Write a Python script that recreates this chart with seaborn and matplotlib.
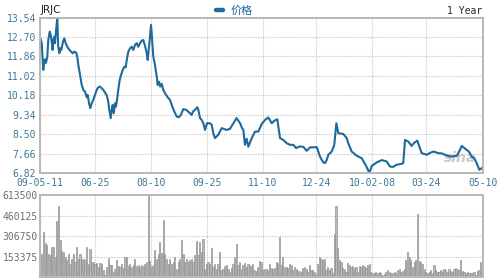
import numpy as np
import pandas as pd
import matplotlib
matplotlib.use("Agg")
import matplotlib.pyplot as plt
import seaborn as sns

# ---------------- data ----------------
start_date = "2009-05-11"
tick_dates = ["2009-05-11", "2009-06-25", "2009-08-10", "2009-09-25", "2009-11-10",
              "2009-12-24", "2010-02-08", "2010-03-24", "2010-05-10"]
tick_labels = ["09-05-11", "06-25", "08-10", "09-25", "11-10",
               "12-24", "10-02-08", "03-24", "05-10"]

price_ticks = [6.82, 7.66, 8.50, 9.34, 10.18, 11.02, 11.86, 12.70, 13.54]
volume_ticks = [153375, 306750, 460125, 613500]

# days since 2009-05-11 for each price observation
price_days = [0, 1.4, 2.7, 3.5, 4.1, 4.9, 6.0, 6.8, 8.0, 8.8,
              9.6, 10.4, 10.9, 11.7, 12.3, 13.1, 14.2, 14.5, 15.0, 15.9,
              16.7, 17.5, 18.9, 20.0, 21.1, 22.4, 23.8, 25.5, 26.9, 28.2,
              29.8, 30.6, 31.5, 32.9, 34.3, 35.6, 37.0, 38.4, 39.2, 40.3,
              41.3, 42.5, 43.8, 45.2, 46.6, 47.9, 49.3, 50.7, 52.0, 53.4,
              54.8, 56.1, 56.9, 58.1, 58.9, 59.7, 60.6, 61.6, 62.4, 63.3,
              64.3, 65.5, 66.6, 68.0, 69.3, 70.4, 71.5, 72.6, 74.0, 75.3,
              76.7, 78.1, 79.5, 80.8, 82.2, 83.6, 84.9, 86.3, 87.7, 88.5,
              89.6, 90.4, 91.2, 91.8, 92.3, 93.1, 94.5, 95.9, 96.7, 97.8,
              98.8, 100.0, 101.3, 102.7, 104.9, 106.8, 108.7, 110.4, 112.3, 114.2,
              115.8, 117.7, 120.0, 121.9, 124.6, 125.7, 127.4, 129.3, 130.1, 131.5,
              132.9, 134.2, 135.6, 137.2, 139.7, 141.1, 142.4, 143.8, 146.5, 149.3,
              153.4, 156.1, 158.6, 161.5, 164.4, 166.0, 167.1, 168.4, 169.8, 171.2,
              174.0, 176.7, 179.4, 182.2, 184.9, 187.6, 190.4, 192.3, 195.0, 197.2,
              199.9, 202.7, 205.4, 208.1, 210.4, 213.6, 216.4, 219.1, 221.9, 224.3,
              227.4, 230.1, 231.5, 232.8, 234.2, 235.6, 236.9, 239.7, 241.8, 243.5,
              245.1, 246.5, 249.2, 252.0, 253.3, 256.1, 260.2, 264.3, 267.0, 268.7,
              270.6, 272.6, 276.7, 280.8, 284.9, 287.6, 290.3, 293.1, 297.2, 298.5,
              299.9, 302.6, 305.4, 307.3, 310.0, 313.6, 317.8, 320.5, 323.2, 327.3,
              330.1, 332.8, 336.9, 342.4, 344.3, 346.5, 348.4, 350.6, 352.5, 354.7,
              356.6, 358.8, 361.0, 363.0, 364.0]

price = [12.71, 12.43, 11.28, 11.64, 11.74, 11.58, 11.85, 12.57, 12.93, 12.79,
         12.50, 12.14, 12.57, 12.71, 12.43, 12.93, 13.51, 13.00, 12.28, 12.00,
         12.21, 12.14, 12.50, 12.64, 12.43, 12.28, 12.17, 12.07, 12.00, 12.07,
         12.02, 11.85, 11.49, 11.06, 10.63, 10.42, 10.34, 10.10, 10.20, 9.84,
         9.63, 9.84, 9.99, 10.20, 10.42, 10.53, 10.56, 10.49, 10.42, 10.30,
         10.20, 9.91, 9.56, 9.20, 9.56, 9.77, 9.41, 9.84, 9.70, 9.99,
         10.42, 10.85, 11.06, 11.28, 11.42, 11.39, 11.78, 12.07, 12.21, 12.28,
         12.14, 12.36, 12.43, 12.28, 12.43, 12.54, 12.57, 12.31, 12.00, 11.71,
         12.28, 12.71, 13.22, 12.86, 12.43, 11.85, 11.49, 10.99, 10.63, 10.77,
         10.56, 10.68, 10.42, 10.27, 10.10, 9.99, 9.70, 9.48, 9.27, 9.24,
         9.34, 9.59, 9.56, 9.48, 9.34, 9.48, 9.56, 9.67, 9.56, 9.20,
         9.12, 8.98, 8.69, 8.98, 8.98, 8.91, 8.55, 8.34, 8.48, 8.77,
         8.69, 8.74, 8.95, 9.20, 8.98, 8.77, 8.69, 8.05, 8.31, 7.97,
         8.34, 8.62, 8.62, 8.95, 9.12, 9.23, 8.98, 9.08, 9.15, 8.34,
         8.26, 8.12, 8.05, 8.05, 7.91, 7.98, 7.96, 7.79, 7.94, 7.94,
         7.95, 7.54, 7.40, 7.29, 7.26, 7.40, 7.62, 7.76, 8.05, 8.98,
         8.55, 8.54, 8.52, 8.34, 8.12, 7.76, 7.58, 7.47, 7.23, 7.06,
         6.84, 7.14, 7.29, 7.39, 7.33, 7.11, 7.10, 7.19, 7.23, 7.27,
         8.26, 8.19, 8.00, 8.13, 8.23, 7.69, 7.62, 7.70, 7.76, 7.69,
         7.68, 7.62, 7.54, 7.57, 7.75, 8.00, 7.92, 7.83, 7.75, 7.54,
         7.49, 7.26, 6.97, 7.04, 7.10]

# daily volume, in trading-day order
volume = [178600, 339800, 260400, 245500, 178600, 171100, 228200, 228200, 153800, 419100,
          533200, 277800, 195900, 191000, 153800, 129000, 176100, 104200, 141400, 178600,
          116600, 228200, 141400, 178600, 141400, 141400, 129000, 228200, 104200, 210800,
          116600, 116600, 104200, 111600, 79400, 111600, 104200, 54600, 17400, 79400,
          146300, 91800, 96700, 42200, 67000, 129000, 86800, 79400, 104200, 71900,
          153800, 153800, 86800, 104200, 79400, 91800, 141400, 86800, 96700, 79400,
          96700, 86800, 104200, 116600, 650000, 121500, 86800, 96700, 203400, 141400,
          178600, 265400, 186000, 426600, 178600, 141400, 104200, 141400, 104200, 116600,
          153800, 67000, 116600, 141400, 277800, 178600, 116600, 141400, 116600, 129000,
          141400, 116600, 166200, 270300, 166200, 265400, 191000, 285200, 67000, 104200,
          116600, 104200, 220700, 79400, 104200, 67000, 104200, 191000, 54600, 67000,
          86800, 91800, 67000, 42200, 71900, 104200, 153800, 253000, 91800, 116600,
          67000, 91800, 111600, 79400, 104200, 96700, 86800, 104200, 54600, 47100,
          79400, 121500, 116600, 54600, 62000, 62000, 54600, 104200, 71900, 67000,
          71900, 116600, 111600, 302600, 91800, 153800, 79400, 79400, 71900, 104200,
          91800, 54600, 79400, 67000, 47100, 47100, 42200, 71900, 76900, 67000,
          42200, 96700, 54600, 54600, 42200, 17400, 104200, 153800, 141400, 129000,
          141400, 54600, 79400, 54600, 71900, 37200, 327400, 538200, 220700, 129000,
          116600, 71900, 67000, 42200, 111600, 96700, 79400, 86800, 71900, 79400,
          42200, 86800, 79400, 91800, 86800, 71900, 96700, 104200, 42200, 29800,
          37200, 42200, 37200, 42200, 29800, 17400, 22300, 42200, 54600, 42200,
          29800, 37200, 42200, 29800, 54600, 67000, 42200, 47100, 62000, 129000,
          191000, 153800, 129000, 79400, 116600, 129000, 476200, 121500, 116600, 104200,
          67000, 42200, 29800, 42200, 54600, 29800, 91800, 54600, 42200, 42200,
          54600, 47100, 62000, 54600, 42200, 62000, 47100, 42200, 67000, 71900,
          62000, 54600, 129000, 47100, 42200, 29800, 42200, 29800, 37200, 29800,
          42200, 17400, 47100, 54600, 116600, 42200]

# ---------------- styling ----------------
sns.set_theme(style="white")
plt.rcParams["font.family"] = ["DejaVu Sans Mono", "Noto Sans CJK SC"]

line_color = "#1d6a9b"
label_blue = "#3f7698"
grid_color = "#c4c4c4"
frame_color = "#b8b8b8"

start = pd.Timestamp(start_date)
tick_days = [(pd.Timestamp(d) - start).days for d in tick_dates]
x_end = tick_days[-1]

fig = plt.figure(figsize=(5, 2.8), dpi=100)
ax1 = fig.add_axes([0.08, 0.381, 0.886, 0.5565])
ax2 = fig.add_axes([0.08, 0.009, 0.886, 0.293])

# price line
price_df = pd.DataFrame({"day": price_days, "price": price})
sns.lineplot(data=price_df, x="day", y="price", ax=ax1, color=line_color,
             linewidth=1.5, estimator=None, sort=False, label="价格")

# volume bars
vol_days = np.linspace(1.5, x_end - 0.6, len(volume))
vol_df = pd.DataFrame({"day": vol_days, "volume": volume})
sns.barplot(data=vol_df, x="day", y="volume", ax=ax2, native_scale=True,
            color="#b9b9b9", saturation=1, errorbar=None, width=0.7,
            edgecolor="#8c8c8c", linewidth=0.45)

for ax in (ax1, ax2):
    ax.set_xlim(0, x_end)
    ax.set_xticks(tick_days)
    ax.set_xlabel("")
    ax.set_ylabel("")
    ax.grid(True, which="major", color=grid_color, linestyle=(0, (1, 1.2)), linewidth=0.8)
    ax.set_axisbelow(True)
    for s in ax.spines.values():
        s.set_color(frame_color)
        s.set_linewidth(1.4)
    ax.tick_params(length=0)

ax1.set_ylim(price_ticks[0], price_ticks[-1])
ax1.set_yticks(price_ticks)
ax1.set_yticklabels([f"{v:.2f}" for v in price_ticks])
ax1.set_xticklabels(tick_labels)
ax1.tick_params(axis="y", labelsize=7, labelcolor=label_blue, pad=3)
ax1.tick_params(axis="x", labelsize=7, labelcolor=label_blue, pad=3.5)

ax2.set_ylim(0, volume_ticks[-1])
ax2.set_yticks(volume_ticks)
ax2.set_yticklabels([str(v) for v in volume_ticks])
ax2.set_xticklabels([])
ax2.tick_params(axis="y", labelsize=7, labelcolor="#6f6f6f", pad=1.5)

# legend
leg = ax1.legend(loc="center", bbox_to_anchor=(0.468, 0.962), bbox_transform=fig.transFigure,
                 frameon=False, handlelength=0.7, handletextpad=0.6,
                 prop={"family": ["Noto Sans CJK SC"], "size": 8}, labelcolor=line_color)
for h in leg.get_lines():
    h.set_linewidth(3.2)

fig.text(0.081, 0.963, "JRJC", ha="left", va="center", fontsize=7.5,
         family=["DejaVu Sans"], color="#222222")
fig.text(0.964, 0.962, "1 Year", ha="right", va="center", fontsize=7,
         family=["DejaVu Sans Mono"], color="#222222")
ax1.text(0.985, 0.1, "sina", transform=ax1.transAxes, ha="right", va="center",
         fontsize=10, fontweight="bold", style="italic", color="#c9c9c9",
         family=["DejaVu Sans"], zorder=0)

fig.savefig("out.png", dpi=100)
